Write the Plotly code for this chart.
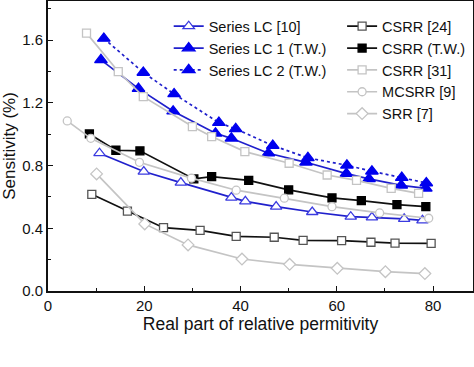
import plotly.graph_objects as go

# Series LC [10]
lc10_x = [10.7, 19.9, 27.6, 38.1, 41.0, 47.4, 54.9, 62.9, 67.3, 74.0, 77.8]
lc10_y = [0.879, 0.762, 0.691, 0.596, 0.572, 0.538, 0.504, 0.474, 0.470, 0.460, 0.451]
# Series LC 1 (T.W.)
lc1_x = [11.0, 18.8, 26.0, 34.8, 38.1, 45.8, 53.6, 62.0, 66.7, 73.4, 78.5]
lc1_y = [1.474, 1.291, 1.147, 1.006, 0.974, 0.879, 0.821, 0.749, 0.715, 0.674, 0.655]
# Series LC 2 (T.W.)
lc2_x = [11.6, 19.8, 26.2, 35.5, 39.0, 46.7, 54.0, 62.1, 67.3, 73.5, 78.6]
lc2_y = [1.611, 1.394, 1.257, 1.074, 1.034, 0.928, 0.849, 0.802, 0.764, 0.723, 0.689]
# CSRR [24]
c24_x = [9.1, 16.5, 24.0, 31.6, 39.1, 47.0, 53.0, 61.0, 67.1, 72.1, 79.6]
c24_y = [0.617, 0.509, 0.404, 0.387, 0.349, 0.343, 0.323, 0.321, 0.311, 0.306, 0.304]
# CSRR (T.W.)
ctw_x = [8.6, 14.1, 19.1, 30.3, 34.0, 41.7, 50.0, 59.0, 65.1, 72.5, 78.5]
ctw_y = [1.002, 0.898, 0.894, 0.715, 0.730, 0.706, 0.645, 0.594, 0.577, 0.551, 0.538]
# CSRR [31]
c31_x = [8.0, 14.6, 19.8, 30.0, 34.0, 40.9, 50.1, 58.0, 64.1, 71.3, 77.0]
c31_y = [1.645, 1.400, 1.240, 1.049, 0.985, 0.889, 0.815, 0.740, 0.706, 0.655, 0.623]
# MCSRR [9]
mc_x = [4.0, 8.9, 19.0, 29.8, 39.1, 49.1, 59.0, 68.9, 79.1]
mc_y = [1.085, 0.974, 0.821, 0.720, 0.643, 0.592, 0.538, 0.498, 0.464]
# SRR [7]
srr_x = [10.1, 20.1, 29.1, 40.3, 50.2, 60.1, 70.1, 78.3]
srr_y = [0.747, 0.428, 0.294, 0.204, 0.170, 0.145, 0.123, 0.111]

BLUE_L = "#2020cc"
BLUE_M = "#0000ee"
LGREY = "#c4c4c4"

fig = go.Figure()

def add(x, y, name, lcolor, dash, symbol, msize, mfill, mline, legend):
    fig.add_trace(go.Scatter(
        x=x, y=y, name=name, mode="lines+markers",
        line=dict(color=lcolor, width=1.7, dash=dash),
        marker=dict(symbol=symbol, size=msize, color=mfill,
                    line=dict(color=mline, width=1.3)),
        legend=legend))

add(lc10_x, lc10_y, "Series LC [10]", BLUE_L, "solid", "triangle-up", 10, "white", "#3a3ae0", "legend")
add(lc1_x, lc1_y, "Series LC 1 (T.W.)", BLUE_L, "solid", "triangle-up", 11, BLUE_M, BLUE_M, "legend")
add(lc2_x, lc2_y, "Series LC 2 (T.W.)", BLUE_L, "dot", "triangle-up", 11, BLUE_M, BLUE_M, "legend")
add(c24_x, c24_y, "CSRR [24]", "#111111", "solid", "square", 8, "white", "#555555", "legend2")
add(ctw_x, ctw_y, "CSRR (T.W.)", "#111111", "solid", "square", 8, "#000000", "#000000", "legend2")
add(c31_x, c31_y, "CSRR [31]", LGREY, "solid", "square", 8, "white", LGREY, "legend2")
add(mc_x, mc_y, "MCSRR [9]", LGREY, "solid", "circle", 8, "white", LGREY, "legend2")
add(srr_x, srr_y, "SRR [7]", LGREY, "solid", "diamond", 9, "white", LGREY, "legend2")

font = "Liberation Sans, Arial, sans-serif"
fig.update_layout(
    width=474, height=367,
    margin=dict(l=48, r=1, t=1, b=76),
    paper_bgcolor="white", plot_bgcolor="white",
    font=dict(family=font, size=14, color="#111111"),
    legend=dict(x=0.284, y=0.968, xanchor="left", yanchor="top",
                bgcolor="rgba(0,0,0,0)", font=dict(size=14.5),
                tracegroupgap=0, itemwidth=30),
    legend2=dict(x=0.692, y=0.968, xanchor="left", yanchor="top",
                 bgcolor="rgba(0,0,0,0)", font=dict(size=14.5),
                 tracegroupgap=0, itemwidth=30),
    xaxis=dict(range=[0, 88.3], tickvals=[0, 20, 40, 60, 80], automargin=False,
               ticks="inside", ticklen=5, tickwidth=1.2, tickcolor="#111",
               minor=dict(tickvals=[10, 30, 50, 70], ticks="inside", ticklen=3, tickcolor="#111"),
               showgrid=False, zeroline=False,
               showline=True, linecolor="#111", linewidth=2, mirror=True,
               tickfont=dict(size=15),
               title=dict(text="Real part of relative permitivity", font=dict(size=17.5), standoff=2)),
    yaxis=dict(range=[0, 1.85], tickvals=[0, 0.4, 0.8, 1.2, 1.6], ticktext=["0.0", "0.4", "0.8", "1.2", "1.6"],
               automargin=False,
               ticks="inside", ticklen=5, tickwidth=1.2, tickcolor="#111",
               minor=dict(tickvals=[0.2, 0.6, 1.0, 1.4, 1.8], ticks="inside", ticklen=3, tickcolor="#111"),
               showgrid=False, zeroline=False,
               showline=True, linecolor="#111", linewidth=2, mirror=True,
               tickfont=dict(size=15),
               title=dict(text="Sensitivity (%)", font=dict(size=17), standoff=2)),
)

fig.write_html("out.html", config={"displayModeBar": False},
               post_script="document.body.style.margin='0';document.body.style.overflow='hidden';")
